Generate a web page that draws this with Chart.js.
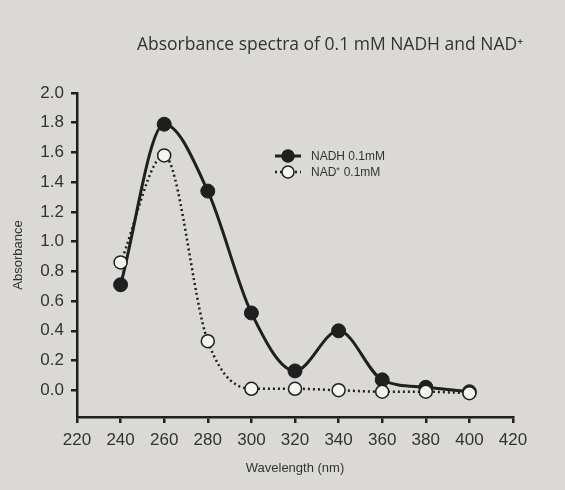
<!DOCTYPE html>
<html>
<head>
<meta charset="utf-8">
<script src="https://cdn.jsdelivr.net/npm/chart.js@4/dist/chart.umd.min.js"></script>
<style>
    html, body { margin: 0; padding: 0; background: #dad9d5; }
    #wrap { width: 565px; height: 490px; position: relative; }
</style>
</head>
<body>
<div id="wrap"><canvas id="grafico" width="565" height="490"></canvas></div>
<script>
// ========== DADOS ==========
const wavelengths = [240, 260, 280, 300, 320, 340, 360, 380, 400];
const nadh = [0.71, 1.79, 1.34, 0.52, 0.13, 0.40, 0.07, 0.02, -0.01];
const nadPlus = [0.86, 1.58, 0.33, 0.01, 0.01, 0.00, -0.01, -0.01, -0.02];
const yTicks = [0.0, 0.2, 0.4, 0.6, 0.8, 1.0, 1.2, 1.4, 1.6, 1.8, 2.0];
const legendLabels = ['NADH 0.1mM', 'NAD\u207A 0.1mM'];
const titulo = 'Absorbance spectra of 0.1 mM NADH and NAD\u207A';

const tinta = '#1f1f1f';
const fonteEixo = '"Liberation Sans", Arial, sans-serif';

// título e legenda desenhados à mão
const legendaInterna = {
    id: 'legendaInterna',
    afterDraw(chart) {
        const ctx = chart.ctx;
        const area = chart.chartArea;
        ctx.save();
        ctx.font = '17.5px "Open Sans", sans-serif';
        ctx.fillStyle = '#333';
        ctx.textAlign = 'center';
        ctx.textBaseline = 'middle';
        ctx.fillText(titulo, 330, 45);

        const x0 = area.left + 198;
        const linhas = [area.top + 63, area.top + 79];
        ctx.font = '12px ' + fonteEixo;
        ctx.textAlign = 'left';
        linhas.forEach((y, i) => {
            ctx.strokeStyle = tinta;
            ctx.lineWidth = i === 0 ? 3 : 2.5;
            ctx.setLineDash(i === 0 ? [] : [2, 3]);
            ctx.beginPath();
            ctx.moveTo(x0, y);
            ctx.lineTo(x0 + 26, y);
            ctx.stroke();
            ctx.setLineDash([]);
            ctx.beginPath();
            ctx.arc(x0 + 13, y, 6, 0, Math.PI * 2);
            ctx.fillStyle = i === 0 ? tinta : '#f4f4f2';
            ctx.fill();
            ctx.lineWidth = 1.5;
            ctx.stroke();
            ctx.fillStyle = '#333';
            ctx.fillText(legendLabels[i], x0 + 36, y + 1);
        });
        ctx.restore();
    }
};

const ctx = document.getElementById('grafico').getContext('2d');
new Chart(ctx, {
    type: 'line',
    data: {
        datasets: [
            {
                label: legendLabels[1],
                data: wavelengths.map((w, i) => ({ x: w, y: nadPlus[i] })),
                borderColor: tinta,
                borderWidth: 2.5,
                borderDash: [2, 3],
                pointRadius: 6.5,
                pointBorderWidth: 1.5,
                pointBackgroundColor: '#f4f4f2',
                pointBorderColor: tinta,
                cubicInterpolationMode: 'monotone',
                order: 0
            },
            {
                label: legendLabels[0],
                data: wavelengths.map((w, i) => ({ x: w, y: nadh[i] })),
                borderColor: tinta,
                borderWidth: 3,
                pointRadius: 7,
                pointBorderWidth: 1,
                pointBackgroundColor: tinta,
                pointBorderColor: tinta,
                cubicInterpolationMode: 'monotone',
                order: 1
            }
        ]
    },
    options: {
        responsive: false,
        animation: false,
        layout: { padding: { left: 0, right: 52, top: 93, bottom: 14 } },
        plugins: {
            legend: { display: false },
            tooltip: { enabled: false },
            title: { display: false }
        },
        scales: {
            x: {
                type: 'linear',
                min: 220,
                max: 420,
                ticks: {
                    stepSize: 20,
                    color: '#333',
                    font: { family: fonteEixo, size: 17 },
                    padding: 7
                },
                grid: { drawOnChartArea: false, color: tinta, lineWidth: 2.5, tickLength: 6 },
                border: { color: tinta, width: 2.5 },
                title: {
                    display: true,
                    text: 'Wavelength (nm)',
                    color: '#333',
                    font: { family: fonteEixo, size: 13 },
                    padding: { top: 4, bottom: 0 }
                },
                afterFit(scale) { scale.height = 59; }
            },
            y: {
                min: -0.18,
                max: 2.0,
                afterBuildTicks(axis) { axis.ticks = yTicks.map(v => ({ value: v })); },
                ticks: {
                    color: '#333',
                    font: { family: fonteEixo, size: 17 },
                    padding: 7,
                    callback: v => v.toFixed(1)
                },
                grid: { drawOnChartArea: false, color: tinta, lineWidth: 2.5, tickLength: 6 },
                border: { color: tinta, width: 2.5 },
                title: {
                    display: true,
                    text: 'Absorbance',
                    color: '#333',
                    font: { family: fonteEixo, size: 13 },
                    padding: { top: 11, bottom: 0 }
                },
                afterFit(scale) { scale.width = 77; }
            }
        }
    },
    plugins: [legendaInterna]
});
</script>
</body>
</html>
